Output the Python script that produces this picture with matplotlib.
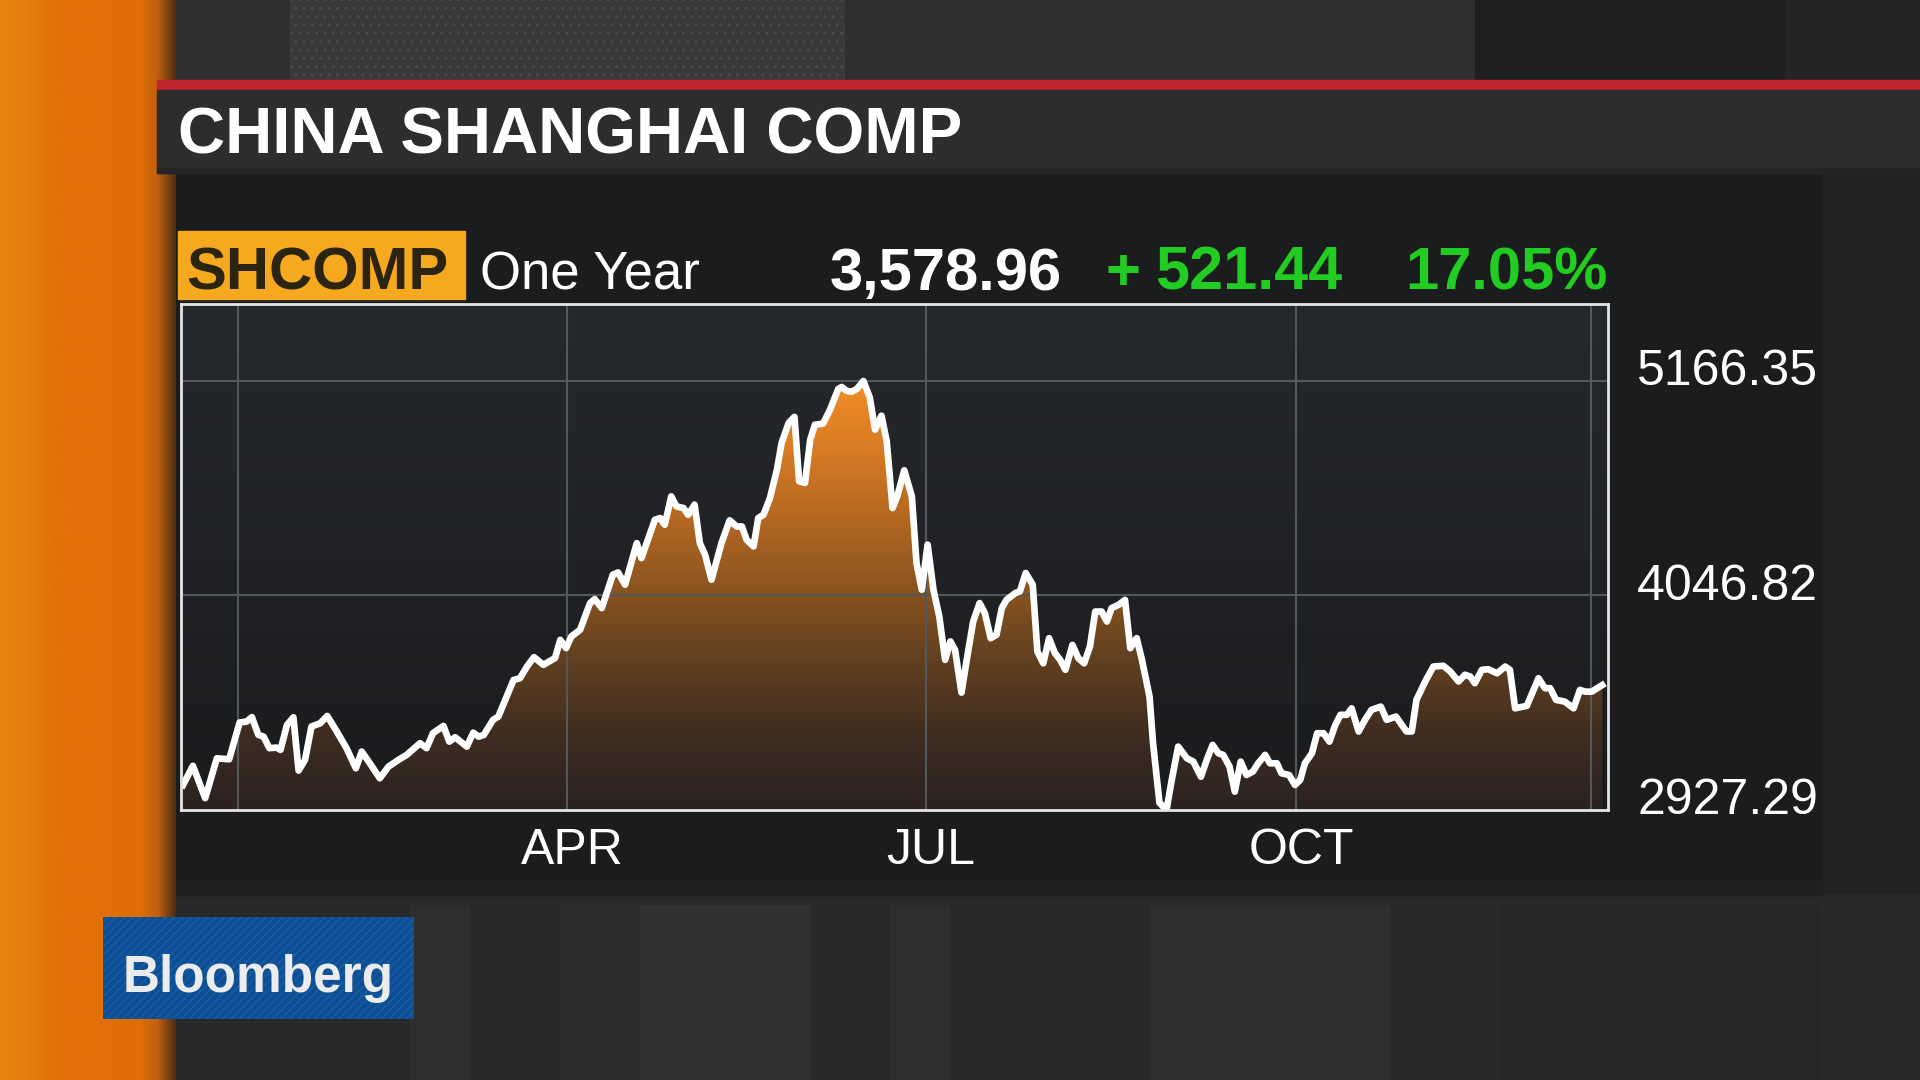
import numpy as np
import matplotlib.pyplot as plt
import matplotlib.transforms as mtransforms
from matplotlib.colors import LinearSegmentedColormap
from matplotlib.patches import Rectangle

plt.rcParams['font.family'] = ['Liberation Sans', 'DejaVu Sans']

title = 'CHINA SHANGHAI COMP'
ticker = 'SHCOMP'
period = 'One Year'

# position in trading days from the start, and index level
day = [0, 1.7, 3.8, 5.8, 7.9, 9.7, 10.9, 11.8, 12.9, 13.8,
       14.8, 16.0, 16.7, 17.8, 18.9, 19.8, 20.9, 22.0, 23.5, 24.7,
       26.0, 28.0, 29.6, 30.6, 32.0, 33.7, 35.2, 36.9, 38.3, 40.6,
       41.7, 42.8, 44.6, 45.6, 46.6, 48.6, 49.7, 50.6, 51.5, 53.1,
       54.0, 56.6, 57.7, 58.9, 60.1, 61.7,
       63.7, 64.6, 65.6, 66.5, 68.0, 69.7, 70.5, 71.7, 73.6, 74.5,
       75.7, 77.7, 78.5, 80.8, 81.7, 82.5, 83.6, 84.5, 85.7, 86.5,
       87.6, 88.5, 89.4, 90.5, 92.2, 93.6, 94.8, 95.7, 96.5, 97.7,
       98.5, 99.4, 100.5, 101.7, 102.5, 103.7, 104.7, 105.5, 106.5, 107.4,
       108.2, 109.6, 110.8, 112.2, 112.8, 113.6, 114.5, 115.4, 116.5, 117.6,
       118.5, 119.6, 120.5, 121.5, 122.3, 123.5,
       124.8, 125.6, 126.5, 127.5, 128.5, 129.5, 130.5, 131.4, 132.2, 133.3,
       134.2, 135.3, 136.4, 137.3, 138.3, 139.3, 140.2, 141.0, 142.5, 143.3,
       144.3, 145.5, 146.3, 147.3, 148.3, 149.3, 150.2, 151.1, 152.3, 153.3,
       154.3, 155.3, 156.2, 157.3, 158.2, 159.0, 160.2, 161.3, 162.2, 163.3,
       164.2, 165.5, 166.1, 167.2, 168.4, 169.3, 170.4, 171.9, 173.0, 174.3,
       175.3, 176.3, 177.3, 178.1, 179.2, 180.1, 181.1, 182.1, 183.2, 184.1,
       185.3, 186.1,
       187.3, 188.1, 189.4, 190.4, 191.3, 192.1, 193.3, 194.2, 195.3, 196.3,
       197.3, 198.2, 199.3, 200.1, 201.3, 202.4, 203.5, 205.1, 206.1, 207.7,
       208.7, 209.5, 210.4, 211.2, 212.7, 214.1, 215.8, 217.0, 218.4, 219.5,
       220.4, 221.2, 222.4, 223.5, 225.0, 226.4, 227.2, 228.1, 230.1, 232.1,
       233.2, 234.1, 235.1, 236.6, 238.1, 239.2, 240.1, 241.2, 243.0]

close = [3057.52, 3158, 2989, 3197, 3192, 3384, 3389, 3412, 3320, 3310,
         3250, 3253, 3241, 3371, 3411, 3133, 3189, 3363, 3380, 3418,
         3354, 3250, 3145, 3232, 3171, 3093, 3154, 3189, 3215, 3276,
         3250, 3328, 3366, 3284, 3307, 3258, 3331, 3310, 3319, 3398,
         3415, 3606, 3615, 3676, 3725, 3685,
         3720, 3815, 3772, 3833, 3868, 4007, 4028, 3981, 4155, 4167,
         4103, 4320, 4242, 4442, 4451, 4416, 4564, 4512, 4503, 4468,
         4521, 4320, 4259, 4129, 4320, 4439, 4407, 4407, 4338, 4303,
         4451, 4468, 4555, 4703, 4843, 4947, 4979, 4643, 4634, 4860,
         4938, 4944, 5017, 5125, 5135, 5115, 5110, 5125, 5166.35, 5080,
         4912, 4985, 4851, 4503, 4564, 4700,
         4564, 4216, 4077, 4312, 4077, 3937, 3711, 3807, 3763, 3540,
         3711, 3911, 4007, 3955, 3824, 3842, 3981, 4024, 4059, 4068,
         4164, 4103, 3754, 3693, 3824, 3746, 3711, 3659, 3789, 3720,
         3693, 3781, 3963, 3963, 3911, 3981, 3998, 4024, 3772, 3824,
         3711, 3519, 3276, 2965, 2927.29, 3084, 3258, 3197, 3180, 3101,
         3189, 3267, 3223, 3215, 3154, 3023, 3180, 3110, 3128, 3171,
         3215, 3171,
         3171, 3119, 3110, 3058, 3084, 3171, 3223, 3328, 3328, 3284,
         3371, 3424, 3424, 3458, 3337, 3398, 3450, 3467, 3398, 3415,
         3371, 3337, 3337, 3502, 3598, 3676, 3680, 3650, 3598, 3633,
         3624, 3589, 3659, 3662, 3641, 3676, 3659, 3458, 3471, 3615,
         3563, 3563, 3502, 3493, 3458, 3554, 3545, 3545, 3578.96]

grid_days = [9.4, 65.8, 127.2, 190.6, 241.1]
month_labels = ['', 'APR', 'JUL', 'OCT', '']
level_ticks = [2927.29, 4046.82, 5166.35]

last = close[-1]
change = close[-1] - close[0]
pct = change / close[0] * 100

GREEN = '#22cc22'

fig = plt.figure(figsize=(19.2, 10.8), dpi=100, facecolor='#29292a')

# studio background, drawn in pixel coordinates
bg = fig.add_axes([0, 0, 1, 1])
bg.axis('off')

bg.add_patch(Rectangle((170, 0), 1750, 85, color='#2f2f30', zorder=0))
bg.add_patch(Rectangle((290, 0), 555, 83, facecolor='#39393a', edgecolor='#4a4a4b',
                       hatch='..', lw=0, zorder=0.5))
bg.add_patch(Rectangle((1475, 0), 310, 85, color='#1e1f20', zorder=0.5))
bg.add_patch(Rectangle((1785, 0), 135, 85, color='#252526', zorder=0.5))
bg.add_patch(Rectangle((1822, 170), 98, 910, color='#232324', zorder=0.5))
bg.add_patch(Rectangle((170, 895), 1750, 185, color='#29292a', zorder=0.5))
for x0, w, c in [(410, 60, '#2e2e2f'), (560, 90, '#2c2c2d'), (640, 170, '#313132'),
                 (890, 60, '#2e2e2f'), (1150, 240, '#2f2f30'), (1500, 320, '#262627')]:
    bg.add_patch(Rectangle((x0, 905), w, 175, color=c, zorder=0.6))
bg.add_patch(Rectangle((175, 170), 1647, 725, color='#1b1c1e', zorder=1))
bg.add_patch(Rectangle((175, 880), 1647, 15, color='#1e1f21', zorder=1))

# orange wall strip on the left
orange = LinearSegmentedColormap.from_list(
    'wall', [(0, '#e8840c'), (0.17, '#e47c0a'), (0.3, '#e27208'), (0.8, '#e06e08'),
             (0.9, '#c0600c'), (1, '#4e2e14')])
bg.imshow(np.linspace(0, 1, 200).reshape(1, -1), cmap=orange, aspect='auto',
          extent=[0, 176, 1080, 0], zorder=2)

# red rule and title bar
bg.add_patch(Rectangle((157, 80), 1763, 10, color='#c0242e', zorder=3))
bg.add_patch(Rectangle((157, 90), 1763, 83, color='#2b2d2f', zorder=3))
bg.add_patch(Rectangle((157, 168), 1763, 5, color='#242527', zorder=3))
bg.text(178, 153, title, fontsize=47, fontweight='bold', color='white',
        va='baseline', ha='left', zorder=4)

# quote header
bg.add_patch(Rectangle((178, 231), 287, 68, color='#f5a91f', zorder=3))
bg.text(186, 289, ticker, fontsize=43, fontweight='bold', color='#2b2411',
        va='baseline', ha='left', zorder=4)
bg.text(480, 289, period, fontsize=38, color='white', va='baseline', ha='left', zorder=4)
bg.text(830, 290, f'{last:,.2f}', fontsize=43, fontweight='bold', color='white',
        va='baseline', ha='left', zorder=4)
bg.text(1106, 290, '+', fontsize=43, fontweight='bold', color=GREEN,
        va='baseline', ha='left', zorder=4)
bg.text(1155, 290, f'{change:.2f}', fontsize=44, fontweight='bold', color=GREEN,
        va='baseline', ha='left', zorder=4)
bg.text(1608, 290, f'{pct:.2f}%', fontsize=43, fontweight='bold', color=GREEN,
        va='baseline', ha='right', zorder=4)

# Bloomberg bug
bg.add_patch(Rectangle((103, 917), 311, 102, facecolor='#0d4f94', edgecolor='#1b5ea6',
                       hatch='////', lw=0, zorder=5))
bg.text(258, 992, 'Bloomberg', fontsize=37, fontweight='bold', color='#ececec',
        va='baseline', ha='center', zorder=6)

bg.set_xlim(0, 1920)
bg.set_ylim(1080, 0)

# the chart itself
ax = fig.add_axes([181 / 1920, 1 - 810 / 1080, 1427 / 1920, 506 / 1080])
xlim = (-0.34, 244.0)
ylim = (2927.29, 5568)

plot_bg = LinearSegmentedColormap.from_list('plotbg', ['#1a1b1d', '#202225', '#26292c'])
ax.imshow(np.linspace(0, 1, 256).reshape(-1, 1), cmap=plot_bg, aspect='auto',
          origin='lower', extent=[xlim[0], xlim[1], ylim[0], ylim[1]], zorder=0)

fill_cmap = LinearSegmentedColormap.from_list(
    'fill', [(0, '#2a2220'), (0.15, '#3f2d20'), (0.30, '#62401f'), (0.45, '#8f5620'),
             (0.60, '#ba6b21'), (0.75, '#e08025'), (0.85, '#f28d27'), (1, '#f7982c')])
area = ax.fill_between(day, close, ylim[0], facecolor='none', edgecolor='none')
grad = ax.imshow(np.linspace(0, 1, 256).reshape(-1, 1), cmap=fill_cmap, aspect='auto',
                 origin='lower', extent=[xlim[0], xlim[1], ylim[0], ylim[1]], zorder=1)
grad.set_clip_path(area.get_paths()[0], transform=ax.transData)

for d in grid_days:
    ax.axvline(d, color='#55585b', lw=1.5, zorder=2)
for lv in level_ticks[1:]:
    ax.axhline(lv, color='#55585b', lw=1.5, zorder=2)

ax.plot(day, close, color='white', lw=4.8, solid_joinstyle='round', zorder=4)

ax.set_xlim(*xlim)
ax.set_ylim(*ylim)
for s in ax.spines.values():
    s.set_color('#e4e4e4')
    s.set_linewidth(2)
    s.set_zorder(5)

ax.set_xticks(grid_days, month_labels)
ax.set_yticks([])
ax.tick_params(axis='x', length=0, labelsize=36, labelcolor='white', pad=12.6)
nudge = mtransforms.ScaledTranslation(5 / 100, 0, fig.dpi_scale_trans)
for lbl in ax.get_xticklabels():
    lbl.set_transform(lbl.get_transform() + nudge)

label_tr = mtransforms.offset_copy(ax.get_yaxis_transform(), fig=fig, x=0, y=-3,
                                   units='points')
for lv in level_ticks:
    ax.text(1 + 29 / 1427, lv, f'{lv:.2f}', transform=label_tr, fontsize=36,
            color='white', ha='left', va='baseline', clip_on=False)

fig.savefig('out.png', dpi=100, facecolor=fig.get_facecolor())
